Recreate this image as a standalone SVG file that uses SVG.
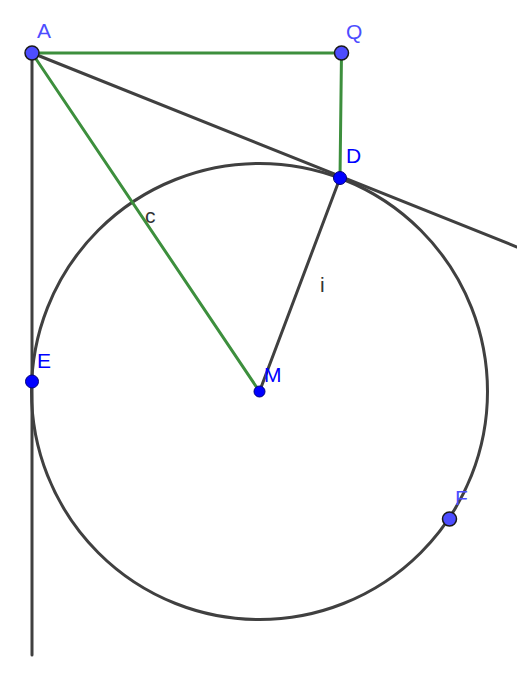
<svg xmlns="http://www.w3.org/2000/svg" width="517" height="677" viewBox="0 0 517 677">
<style>
.g{stroke:#3d8f3d;stroke-width:3;fill:none;stroke-linecap:round}
.k{stroke:#404040;stroke-width:3;fill:none;stroke-linecap:round}
.p1{fill:#4d4dff;stroke:#1a1a1a;stroke-width:1.5}
.p2{fill:#0000ff;stroke:#00007a;stroke-width:1}
.t1{font-family:"Liberation Sans",Arial,sans-serif;font-size:21px;fill:#4d4dff}
.t2{font-family:"Liberation Sans",Arial,sans-serif;font-size:21px;fill:#0000ff}
.t3{font-family:"Liberation Sans",Arial,sans-serif;font-size:21px;fill:#333333}
</style>
<rect width="517" height="677" fill="#ffffff"/>
<g id="connectors">
<circle class="k" cx="259.5" cy="391.5" r="228"/>
<line class="k" x1="32" y1="53" x2="32" y2="655"/>
<line class="k" x1="32" y1="53" x2="517" y2="247"/>
<line class="k" x1="340" y1="178" x2="259.5" y2="391.5"/>
<line class="g" x1="32" y1="53" x2="341.5" y2="53"/>
<line class="g" x1="341.5" y1="53" x2="340" y2="178"/>
<line class="g" x1="32" y1="53" x2="259.5" y2="391.5"/>
<text class="t3" x="145" y="223">c</text>
<text class="t3" x="320" y="292">i</text>
</g>
<g id="A"><circle class="p1" cx="32" cy="53" r="7"/><text class="t1" x="37" y="38">A</text></g>
<g id="Q"><circle class="p1" cx="341.5" cy="53" r="7"/><text class="t1" x="346" y="39">Q</text></g>
<g id="D"><circle class="p2" cx="340" cy="178" r="6.5"/><text class="t2" x="346" y="163">D</text></g>
<g id="E"><circle class="p2" cx="32" cy="381.5" r="6.5"/><text class="t2" x="37" y="368">E</text></g>
<g id="M"><circle class="p2" cx="259.5" cy="391.5" r="5.5"/><text class="t2" x="264" y="382">M</text></g>
<g id="F"><circle class="p1" cx="449.5" cy="519" r="7"/><text class="t1" x="455" y="505">F</text></g>
</svg>
